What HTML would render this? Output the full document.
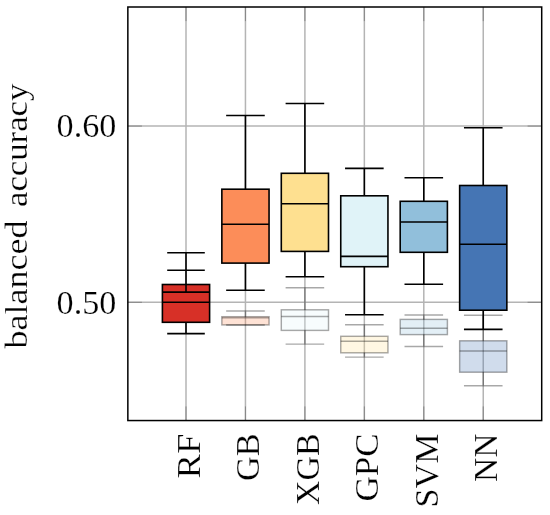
<!DOCTYPE html>
<html lang="en"><head><meta charset="utf-8"><title>balanced accuracy box plot</title>
<style>html,body{margin:0;padding:0;background:#fff}body{width:550px;height:515px;overflow:hidden}svg{display:block}text{font-family:"Liberation Serif","DejaVu Serif",serif;fill:#000;stroke:#fff;stroke-width:0.22px}</style></head><body>
<svg width="550" height="515" viewBox="0 0 550 515">
<rect x="0" y="0" width="550" height="515" fill="#fff"/>
<g stroke="#b4b4b4" stroke-width="1.5" fill="none">
<line x1="186.00" y1="7.00" x2="186.00" y2="420.55"/>
<line x1="245.45" y1="7.00" x2="245.45" y2="420.55"/>
<line x1="304.90" y1="7.00" x2="304.90" y2="420.55"/>
<line x1="364.35" y1="7.00" x2="364.35" y2="420.55"/>
<line x1="423.80" y1="7.00" x2="423.80" y2="420.55"/>
<line x1="483.25" y1="7.00" x2="483.25" y2="420.55"/>
<line x1="127.85" y1="302.30" x2="541.70" y2="302.30"/>
<line x1="127.85" y1="126.05" x2="541.70" y2="126.05"/>
</g>
<g stroke="#808080" stroke-width="0.9" fill="none">
<line x1="186.00" y1="7.00" x2="186.00" y2="21.10"/>
<line x1="186.00" y1="420.55" x2="186.00" y2="406.45"/>
<line x1="245.45" y1="7.00" x2="245.45" y2="21.10"/>
<line x1="245.45" y1="420.55" x2="245.45" y2="406.45"/>
<line x1="304.90" y1="7.00" x2="304.90" y2="21.10"/>
<line x1="304.90" y1="420.55" x2="304.90" y2="406.45"/>
<line x1="364.35" y1="7.00" x2="364.35" y2="21.10"/>
<line x1="364.35" y1="420.55" x2="364.35" y2="406.45"/>
<line x1="423.80" y1="7.00" x2="423.80" y2="21.10"/>
<line x1="423.80" y1="420.55" x2="423.80" y2="406.45"/>
<line x1="483.25" y1="7.00" x2="483.25" y2="21.10"/>
<line x1="483.25" y1="420.55" x2="483.25" y2="406.45"/>
<line x1="127.85" y1="302.30" x2="141.95" y2="302.30"/>
<line x1="541.70" y1="302.30" x2="527.60" y2="302.30"/>
<line x1="127.85" y1="126.05" x2="141.95" y2="126.05"/>
<line x1="541.70" y1="126.05" x2="527.60" y2="126.05"/>
</g>
<g stroke="#000" stroke-width="1.45" stroke-opacity="0.34" fill="none"><rect x="221.85" y="316.70" width="47.20" height="8.20" fill="#fc8d59" fill-opacity="0.25"/><path d="M221.85 317.85H269.05 M245.45 311.00V316.70 M245.45 324.90V324.90 M226.15 311.00H264.75 M226.15 324.90H264.75"/></g>
<g stroke="#000" stroke-width="1.45" stroke-opacity="0.34" fill="none"><rect x="281.30" y="309.80" width="47.20" height="20.60" fill="#e0f3f8" fill-opacity="0.25"/><path d="M281.30 316.40H328.50 M304.90 287.70V309.80 M304.90 330.40V344.10 M285.60 287.70H324.20 M285.60 344.10H324.20"/></g>
<g stroke="#000" stroke-width="1.45" stroke-opacity="0.34" fill="none"><rect x="340.75" y="336.30" width="47.20" height="16.50" fill="#fee090" fill-opacity="0.25"/><path d="M340.75 341.20H387.95 M364.35 324.80V336.30 M364.35 352.80V357.10 M345.05 324.80H383.65 M345.05 357.10H383.65"/></g>
<g stroke="#000" stroke-width="1.45" stroke-opacity="0.34" fill="none"><rect x="400.20" y="319.40" width="47.20" height="15.20" fill="#91bfdb" fill-opacity="0.25"/><path d="M400.20 328.20H447.40 M423.80 315.00V319.40 M423.80 334.60V346.40 M404.50 315.00H443.10 M404.50 346.40H443.10"/></g>
<g stroke="#000" stroke-width="1.45" stroke-opacity="0.34" fill="none"><rect x="459.65" y="340.80" width="47.20" height="31.40" fill="#4575b4" fill-opacity="0.25"/><path d="M459.65 350.90H506.85 M483.25 315.20V340.80 M483.25 372.20V385.80 M463.95 315.20H502.55 M463.95 385.80H502.55"/></g>
<g stroke="#000" stroke-width="1.60" fill="none"><rect x="221.85" y="189.20" width="47.20" height="73.90" fill="#fc8d59"/><path d="M221.85 224.30H269.05 M245.45 115.45V189.20 M245.45 263.10V290.30 M226.15 115.45H264.75 M226.15 290.30H264.75"/></g>
<g stroke="#000" stroke-width="1.60" fill="none"><rect x="281.30" y="173.30" width="47.20" height="78.10" fill="#fee090"/><path d="M281.30 203.70H328.50 M304.90 103.55V173.30 M304.90 251.40V276.70 M285.60 103.55H324.20 M285.60 276.70H324.20"/></g>
<g stroke="#000" stroke-width="1.60" fill="none"><rect x="340.75" y="195.80" width="47.20" height="70.90" fill="#e0f3f8"/><path d="M340.75 256.40H387.95 M364.35 168.40V195.80 M364.35 266.70V314.80 M345.05 168.40H383.65 M345.05 314.80H383.65"/></g>
<g stroke="#000" stroke-width="1.60" fill="none"><rect x="400.20" y="201.30" width="47.20" height="51.00" fill="#91bfdb"/><path d="M400.20 222.00H447.40 M423.80 177.80V201.30 M423.80 252.30V284.20 M404.50 177.80H443.10 M404.50 284.20H443.10"/></g>
<g stroke="#000" stroke-width="1.60" fill="none"><rect x="459.65" y="185.50" width="47.20" height="124.70" fill="#4575b4"/><path d="M459.65 244.30H506.85 M483.25 127.70V185.50 M483.25 310.20V329.40 M463.95 127.70H502.55 M463.95 329.40H502.55"/></g>
<g stroke="#000" stroke-width="1.60" fill="none">
<rect x="162.40" y="284.5" width="47.20" height="37.8" fill="#d73027"/>
<path d="M162.40 292.1H209.60 M162.40 302.3H209.60 M186.00 252.8V292.1 M186.00 322.3V333.6 M167.20 252.8H204.80 M167.20 270.3H204.80 M167.20 333.6H204.80"/>
</g>
<rect x="127.85" y="7.00" width="413.85" height="413.55" fill="none" stroke="#000" stroke-width="1.5"/>
<text x="116.4" y="137.3" font-size="34" text-anchor="end" textLength="59.8" lengthAdjust="spacingAndGlyphs">0.60</text>
<text x="116.4" y="313.6" font-size="34" text-anchor="end" textLength="59.8" lengthAdjust="spacingAndGlyphs">0.50</text>
<text transform="translate(199.60 433.5) rotate(-90)" x="0" y="0" font-size="33" text-anchor="end" textLength="45.0" lengthAdjust="spacingAndGlyphs">RF</text>
<text transform="translate(259.05 433.5) rotate(-90)" x="0" y="0" font-size="33" text-anchor="end" textLength="47.5" lengthAdjust="spacingAndGlyphs">GB</text>
<text transform="translate(318.90 433.5) rotate(-90)" x="0" y="0" font-size="33" text-anchor="end" textLength="71.5" lengthAdjust="spacingAndGlyphs">XGB</text>
<text transform="translate(378.35 433.5) rotate(-90)" x="0" y="0" font-size="33" text-anchor="end" textLength="68.0" lengthAdjust="spacingAndGlyphs">GPC</text>
<text transform="translate(437.90 433.5) rotate(-90)" x="0" y="0" font-size="33" text-anchor="end" textLength="74.0" lengthAdjust="spacingAndGlyphs">SVM</text>
<text transform="translate(496.85 433.5) rotate(-90)" x="0" y="0" font-size="33" text-anchor="end" textLength="48.5" lengthAdjust="spacingAndGlyphs">NN</text>
<text transform="translate(27.4 348.6) rotate(-90)" font-size="31.5"><tspan x="0" y="0" textLength="128.2" lengthAdjust="spacingAndGlyphs">balanced</tspan> <tspan x="141.6" y="0" textLength="123.4" lengthAdjust="spacingAndGlyphs">accuracy</tspan></text>
</svg></body></html>
